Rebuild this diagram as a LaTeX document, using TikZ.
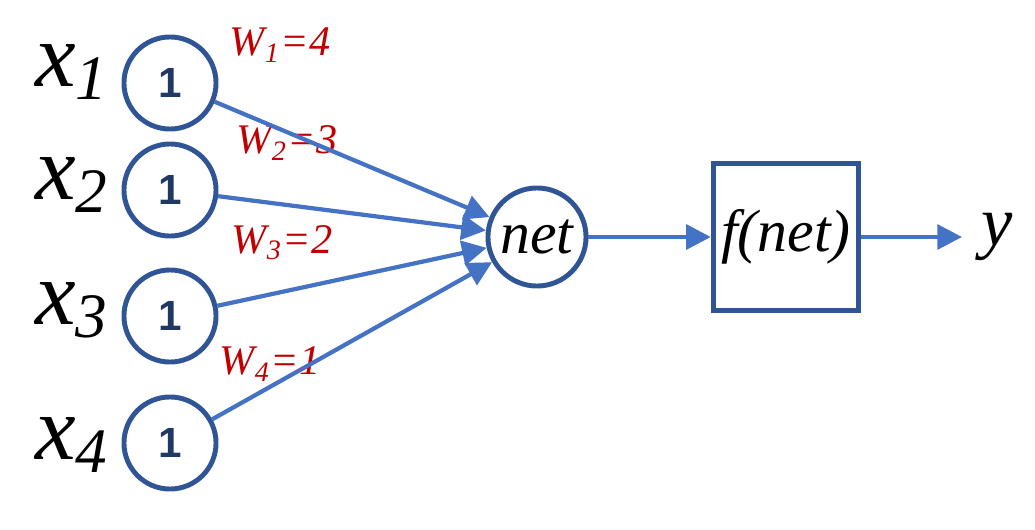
\documentclass[tikz,border=0pt]{standalone}
\usepackage{fontspec}
\setmainfont{Liberation Serif}
\newfontfamily\sansf{Liberation Sans}
\usetikzlibrary{arrows.meta}
\definecolor{dk}{HTML}{2F5597}
\definecolor{lb}{HTML}{4472C4}
\definecolor{nv}{HTML}{1F3864}
\definecolor{rd}{HTML}{C00000}
\begin{document}
\begin{tikzpicture}[x=0.01cm,y=-0.01cm,
 inp/.style={circle,draw=dk,line width=1.4pt,minimum size=0.92cm,inner sep=0pt,font=\sansf\bfseries\fontsize{12}{14}\selectfont,text=nv},
 con/.style={draw=lb,line width=1.2pt,-{Triangle[length=7pt,width=7pt]}},
 xl/.style={font=\itshape\fontsize{26}{30}\selectfont},
 wl/.style={text=rd,font=\itshape\fontsize{12}{14}\selectfont}]
\useasboundingbox (0,0) rectangle (1035,530);
\node[inp] (a) at (170,83) {1};
\node[inp] (b) at (170,190) {1};
\node[inp] (c) at (170,316) {1};
\node[inp] (d) at (170,443) {1};
\node[circle,draw=dk,line width=1.4pt,minimum size=0.98cm,inner sep=0pt,font=\itshape\fontsize{17}{20}\selectfont] (n) at (537,237) {net};
\node[draw=dk,line width=1.5pt,minimum width=1.45cm,minimum height=1.47cm,inner sep=0pt,font=\itshape\fontsize{17}{20}\selectfont] (f) at (786,237) {f(net)};
\coordinate (yo) at (962,237);
\node[font=\itshape\fontsize{20}{22}\selectfont] (y) at (997,237) {y};
\node[xl] (x1) at (72,72) {x\textsubscript{\fontsize{18}{20}\selectfont 1}};
\node[xl] (x2) at (72,185) {x\textsubscript{\fontsize{18}{20}\selectfont 2}};
\node[xl] (x3) at (72,310) {x\textsubscript{\fontsize{18}{20}\selectfont 3}};
\node[xl] (x4) at (72,445) {x\textsubscript{\fontsize{18}{20}\selectfont 4}};
\node[wl] (w1) at (280,45) {W\textsubscript{1}=4};
\node[wl] (w2) at (287,143) {W\textsubscript{2}=3};
\node[wl] (w3) at (282,243) {W\textsubscript{3}=2};
\node[wl] (w4) at (270,364) {W\textsubscript{4}=1};
\draw[con] (a) -- (n);
\draw[con] (b) -- (n);
\draw[con] (c) -- (n);
\draw[con] (d) -- (n);
\draw[con] (n) -- (f);
\draw[con] (f) -- (yo);
\end{tikzpicture}
\end{document}
